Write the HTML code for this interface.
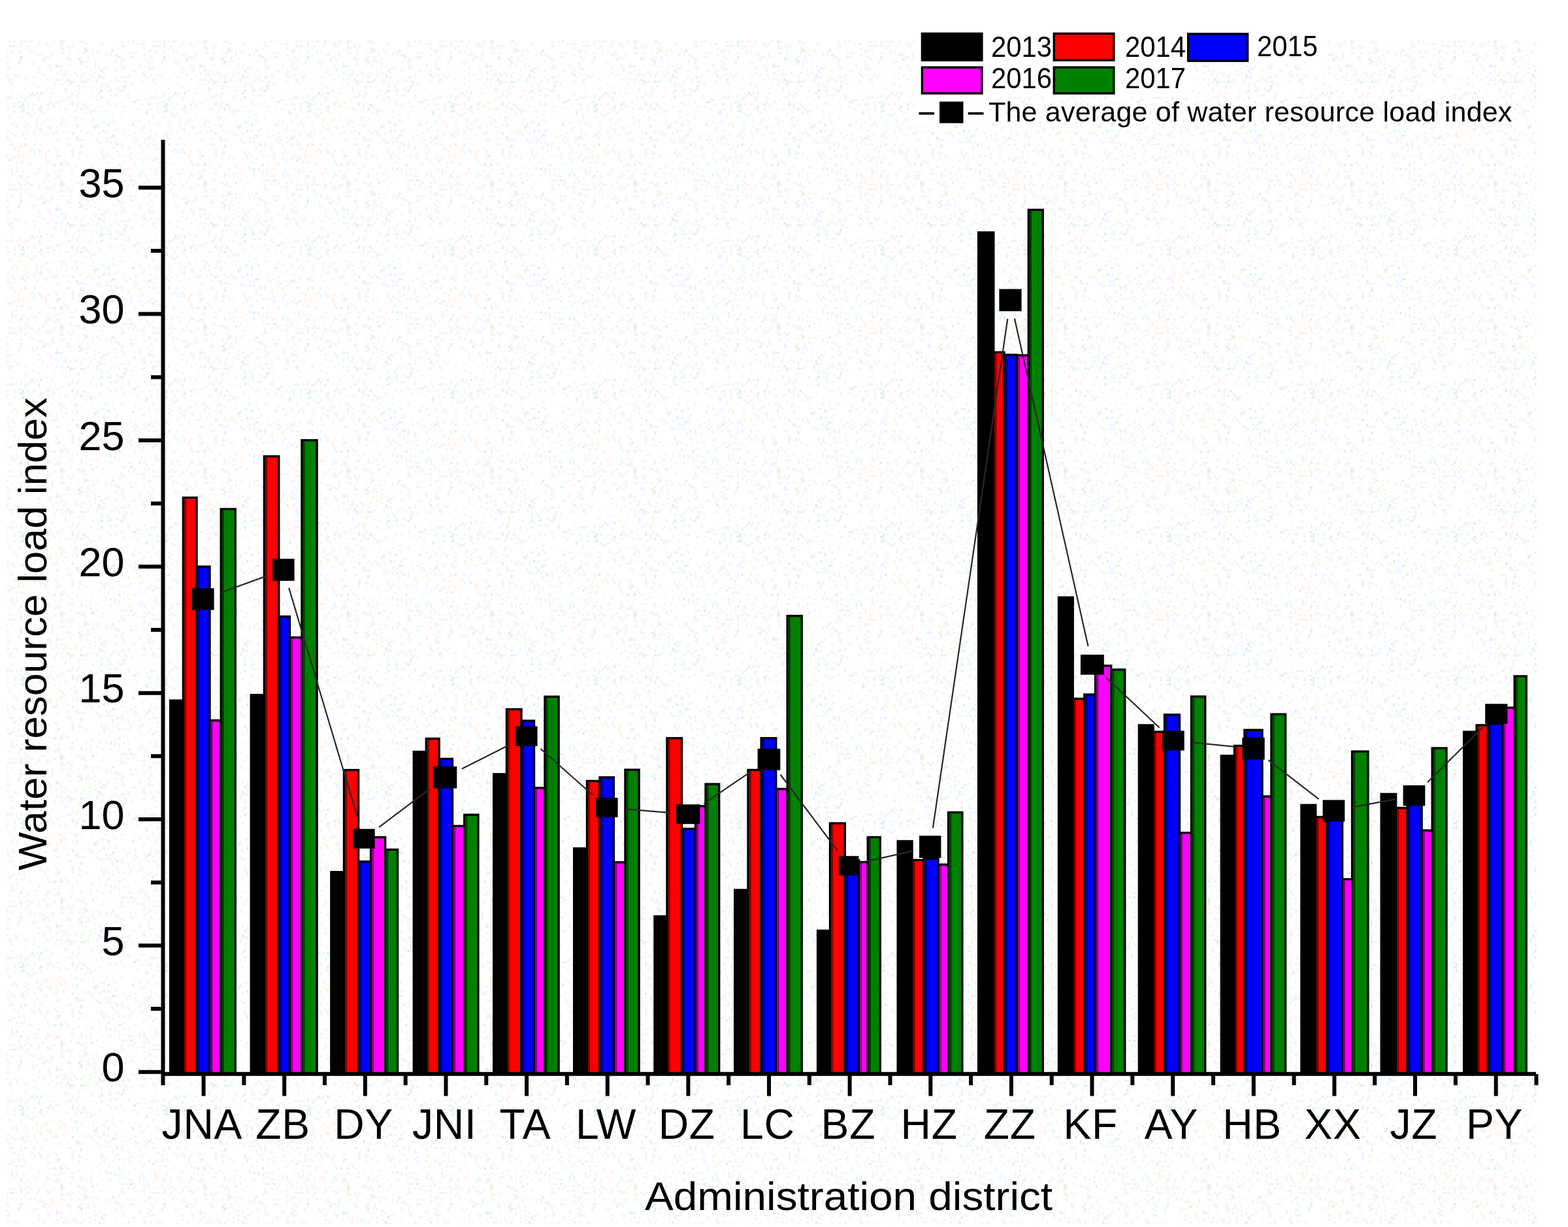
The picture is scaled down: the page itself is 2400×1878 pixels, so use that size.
<!DOCTYPE html>
<html><head><meta charset="utf-8"><title>Water resource load index</title>
<style>html,body{margin:0;padding:0;background:#fff;}body{width:2400px;height:1878px;position:relative;overflow:hidden;}</style>
</head><body>
<svg width="2400" height="1878" viewBox="0 0 2400 1878" style="position:absolute;left:0;top:0">
<rect x="0" y="0" width="2400" height="1878" fill="#ffffff"/>
<defs><pattern id="spk" patternUnits="userSpaceOnUse" x="10" y="62" width="219.429" height="219.429"><path fill="#fcebfc" d="M3.4 0.0h3.43v3.43h-3.43zM185.1 0.0h3.43v3.43h-3.43zM120.0 3.4h3.43v3.43h-3.43zM10.3 6.9h3.43v3.43h-3.43zM30.9 6.9h3.43v3.43h-3.43zM92.6 6.9h3.43v3.43h-3.43zM85.7 10.3h3.43v3.43h-3.43zM96.0 10.3h3.43v3.43h-3.43zM68.6 17.1h3.43v3.43h-3.43zM209.1 20.6h3.43v3.43h-3.43zM171.4 24.0h3.43v3.43h-3.43zM61.7 37.7h3.43v3.43h-3.43zM102.9 48.0h3.43v3.43h-3.43zM147.4 54.9h3.43v3.43h-3.43zM3.4 58.3h3.43v3.43h-3.43zM0.0 85.7h3.43v3.43h-3.43zM198.9 89.1h3.43v3.43h-3.43zM123.4 102.9h3.43v3.43h-3.43zM126.9 106.3h3.43v3.43h-3.43zM126.9 140.6h3.43v3.43h-3.43zM24.0 144.0h3.43v3.43h-3.43zM137.1 150.9h3.43v3.43h-3.43zM157.7 154.3h3.43v3.43h-3.43zM41.1 157.7h3.43v3.43h-3.43zM10.3 164.6h3.43v3.43h-3.43zM99.4 168.0h3.43v3.43h-3.43zM99.4 171.4h3.43v3.43h-3.43zM188.6 171.4h3.43v3.43h-3.43zM6.9 178.3h3.43v3.43h-3.43zM216.0 178.3h3.43v3.43h-3.43zM48.0 195.4h3.43v3.43h-3.43zM58.3 209.1h3.43v3.43h-3.43z"/><path fill="#fff4e9" d="M10.3 0.0h3.43v3.43h-3.43zM37.7 0.0h3.43v3.43h-3.43zM48.0 0.0h3.43v3.43h-3.43zM85.7 0.0h3.43v3.43h-3.43zM174.9 0.0h3.43v3.43h-3.43zM58.3 3.4h3.43v3.43h-3.43zM68.6 3.4h3.43v3.43h-3.43zM82.3 3.4h3.43v3.43h-3.43zM198.9 3.4h3.43v3.43h-3.43zM13.7 6.9h3.43v3.43h-3.43zM44.6 6.9h3.43v3.43h-3.43zM61.7 6.9h3.43v3.43h-3.43zM65.1 6.9h3.43v3.43h-3.43zM27.4 10.3h3.43v3.43h-3.43zM82.3 10.3h3.43v3.43h-3.43zM116.6 10.3h3.43v3.43h-3.43zM171.4 10.3h3.43v3.43h-3.43zM34.3 13.7h3.43v3.43h-3.43zM123.4 13.7h3.43v3.43h-3.43zM130.3 13.7h3.43v3.43h-3.43zM137.1 13.7h3.43v3.43h-3.43zM34.3 17.1h3.43v3.43h-3.43zM51.4 17.1h3.43v3.43h-3.43zM82.3 17.1h3.43v3.43h-3.43zM96.0 17.1h3.43v3.43h-3.43zM109.7 17.1h3.43v3.43h-3.43zM140.6 17.1h3.43v3.43h-3.43zM150.9 17.1h3.43v3.43h-3.43zM216.0 17.1h3.43v3.43h-3.43zM51.4 20.6h3.43v3.43h-3.43zM54.9 20.6h3.43v3.43h-3.43zM68.6 20.6h3.43v3.43h-3.43zM157.7 20.6h3.43v3.43h-3.43zM61.7 24.0h3.43v3.43h-3.43zM68.6 24.0h3.43v3.43h-3.43zM123.4 24.0h3.43v3.43h-3.43zM168.0 24.0h3.43v3.43h-3.43zM3.4 27.4h3.43v3.43h-3.43zM65.1 27.4h3.43v3.43h-3.43zM133.7 27.4h3.43v3.43h-3.43zM178.3 27.4h3.43v3.43h-3.43zM44.6 30.9h3.43v3.43h-3.43zM120.0 30.9h3.43v3.43h-3.43zM126.9 30.9h3.43v3.43h-3.43zM174.9 30.9h3.43v3.43h-3.43zM41.1 34.3h3.43v3.43h-3.43zM96.0 34.3h3.43v3.43h-3.43zM109.7 34.3h3.43v3.43h-3.43zM113.1 34.3h3.43v3.43h-3.43zM154.3 37.7h3.43v3.43h-3.43zM133.7 41.1h3.43v3.43h-3.43zM174.9 41.1h3.43v3.43h-3.43zM178.3 41.1h3.43v3.43h-3.43zM216.0 41.1h3.43v3.43h-3.43zM65.1 44.6h3.43v3.43h-3.43zM89.1 44.6h3.43v3.43h-3.43zM126.9 44.6h3.43v3.43h-3.43zM195.4 44.6h3.43v3.43h-3.43zM209.1 44.6h3.43v3.43h-3.43zM89.1 48.0h3.43v3.43h-3.43zM116.6 48.0h3.43v3.43h-3.43zM133.7 48.0h3.43v3.43h-3.43zM205.7 48.0h3.43v3.43h-3.43zM17.1 51.4h3.43v3.43h-3.43zM85.7 51.4h3.43v3.43h-3.43zM89.1 51.4h3.43v3.43h-3.43zM96.0 51.4h3.43v3.43h-3.43zM113.1 51.4h3.43v3.43h-3.43zM41.1 54.9h3.43v3.43h-3.43zM68.6 54.9h3.43v3.43h-3.43zM164.6 54.9h3.43v3.43h-3.43zM185.1 54.9h3.43v3.43h-3.43zM212.6 54.9h3.43v3.43h-3.43zM6.9 58.3h3.43v3.43h-3.43zM161.1 58.3h3.43v3.43h-3.43zM89.1 61.7h3.43v3.43h-3.43zM102.9 61.7h3.43v3.43h-3.43zM171.4 61.7h3.43v3.43h-3.43zM178.3 61.7h3.43v3.43h-3.43zM205.7 61.7h3.43v3.43h-3.43zM209.1 61.7h3.43v3.43h-3.43zM72.0 65.1h3.43v3.43h-3.43zM144.0 65.1h3.43v3.43h-3.43zM150.9 65.1h3.43v3.43h-3.43zM181.7 65.1h3.43v3.43h-3.43zM48.0 68.6h3.43v3.43h-3.43zM109.7 68.6h3.43v3.43h-3.43zM116.6 68.6h3.43v3.43h-3.43zM144.0 68.6h3.43v3.43h-3.43zM27.4 72.0h3.43v3.43h-3.43zM109.7 72.0h3.43v3.43h-3.43zM157.7 72.0h3.43v3.43h-3.43zM6.9 75.4h3.43v3.43h-3.43zM58.3 75.4h3.43v3.43h-3.43zM171.4 75.4h3.43v3.43h-3.43zM99.4 78.9h3.43v3.43h-3.43zM99.4 82.3h3.43v3.43h-3.43zM168.0 82.3h3.43v3.43h-3.43zM209.1 82.3h3.43v3.43h-3.43zM13.7 85.7h3.43v3.43h-3.43zM20.6 85.7h3.43v3.43h-3.43zM27.4 85.7h3.43v3.43h-3.43zM65.1 85.7h3.43v3.43h-3.43zM106.3 85.7h3.43v3.43h-3.43zM85.7 89.1h3.43v3.43h-3.43zM137.1 89.1h3.43v3.43h-3.43zM212.6 89.1h3.43v3.43h-3.43zM75.4 92.6h3.43v3.43h-3.43zM109.7 92.6h3.43v3.43h-3.43zM0.0 96.0h3.43v3.43h-3.43zM10.3 96.0h3.43v3.43h-3.43zM68.6 96.0h3.43v3.43h-3.43zM157.7 96.0h3.43v3.43h-3.43zM205.7 96.0h3.43v3.43h-3.43zM68.6 99.4h3.43v3.43h-3.43zM72.0 99.4h3.43v3.43h-3.43zM192.0 99.4h3.43v3.43h-3.43zM37.7 102.9h3.43v3.43h-3.43zM51.4 102.9h3.43v3.43h-3.43zM78.9 102.9h3.43v3.43h-3.43zM92.6 102.9h3.43v3.43h-3.43zM106.3 102.9h3.43v3.43h-3.43zM102.9 106.3h3.43v3.43h-3.43zM130.3 106.3h3.43v3.43h-3.43zM133.7 106.3h3.43v3.43h-3.43zM150.9 106.3h3.43v3.43h-3.43zM54.9 109.7h3.43v3.43h-3.43zM120.0 109.7h3.43v3.43h-3.43zM3.4 113.1h3.43v3.43h-3.43zM96.0 113.1h3.43v3.43h-3.43zM161.1 113.1h3.43v3.43h-3.43zM68.6 116.6h3.43v3.43h-3.43zM78.9 116.6h3.43v3.43h-3.43zM82.3 116.6h3.43v3.43h-3.43zM130.3 116.6h3.43v3.43h-3.43zM44.6 120.0h3.43v3.43h-3.43zM61.7 120.0h3.43v3.43h-3.43zM102.9 120.0h3.43v3.43h-3.43zM113.1 120.0h3.43v3.43h-3.43zM161.1 120.0h3.43v3.43h-3.43zM195.4 120.0h3.43v3.43h-3.43zM10.3 123.4h3.43v3.43h-3.43zM27.4 123.4h3.43v3.43h-3.43zM54.9 123.4h3.43v3.43h-3.43zM82.3 123.4h3.43v3.43h-3.43zM130.3 123.4h3.43v3.43h-3.43zM13.7 126.9h3.43v3.43h-3.43zM30.9 126.9h3.43v3.43h-3.43zM51.4 126.9h3.43v3.43h-3.43zM99.4 126.9h3.43v3.43h-3.43zM13.7 130.3h3.43v3.43h-3.43zM44.6 130.3h3.43v3.43h-3.43zM61.7 130.3h3.43v3.43h-3.43zM75.4 130.3h3.43v3.43h-3.43zM89.1 130.3h3.43v3.43h-3.43zM30.9 133.7h3.43v3.43h-3.43zM48.0 133.7h3.43v3.43h-3.43zM133.7 133.7h3.43v3.43h-3.43zM0.0 137.1h3.43v3.43h-3.43zM27.4 137.1h3.43v3.43h-3.43zM41.1 137.1h3.43v3.43h-3.43zM51.4 137.1h3.43v3.43h-3.43zM75.4 137.1h3.43v3.43h-3.43zM85.7 137.1h3.43v3.43h-3.43zM92.6 137.1h3.43v3.43h-3.43zM113.1 137.1h3.43v3.43h-3.43zM123.4 137.1h3.43v3.43h-3.43zM6.9 140.6h3.43v3.43h-3.43zM30.9 140.6h3.43v3.43h-3.43zM41.1 140.6h3.43v3.43h-3.43zM68.6 140.6h3.43v3.43h-3.43zM75.4 140.6h3.43v3.43h-3.43zM178.3 140.6h3.43v3.43h-3.43zM0.0 147.4h3.43v3.43h-3.43zM92.6 147.4h3.43v3.43h-3.43zM209.1 147.4h3.43v3.43h-3.43zM3.4 150.9h3.43v3.43h-3.43zM75.4 150.9h3.43v3.43h-3.43zM106.3 150.9h3.43v3.43h-3.43zM113.1 150.9h3.43v3.43h-3.43zM192.0 150.9h3.43v3.43h-3.43zM144.0 154.3h3.43v3.43h-3.43zM164.6 154.3h3.43v3.43h-3.43zM174.9 154.3h3.43v3.43h-3.43zM3.4 157.7h3.43v3.43h-3.43zM20.6 157.7h3.43v3.43h-3.43zM51.4 157.7h3.43v3.43h-3.43zM202.3 157.7h3.43v3.43h-3.43zM174.9 161.1h3.43v3.43h-3.43zM185.1 161.1h3.43v3.43h-3.43zM202.3 161.1h3.43v3.43h-3.43zM72.0 164.6h3.43v3.43h-3.43zM161.1 164.6h3.43v3.43h-3.43zM34.3 168.0h3.43v3.43h-3.43zM41.1 168.0h3.43v3.43h-3.43zM48.0 168.0h3.43v3.43h-3.43zM51.4 168.0h3.43v3.43h-3.43zM58.3 171.4h3.43v3.43h-3.43zM109.7 171.4h3.43v3.43h-3.43zM113.1 171.4h3.43v3.43h-3.43zM0.0 174.9h3.43v3.43h-3.43zM17.1 174.9h3.43v3.43h-3.43zM24.0 174.9h3.43v3.43h-3.43zM58.3 174.9h3.43v3.43h-3.43zM75.4 174.9h3.43v3.43h-3.43zM154.3 174.9h3.43v3.43h-3.43zM178.3 174.9h3.43v3.43h-3.43zM185.1 174.9h3.43v3.43h-3.43zM10.3 178.3h3.43v3.43h-3.43zM17.1 178.3h3.43v3.43h-3.43zM27.4 178.3h3.43v3.43h-3.43zM58.3 178.3h3.43v3.43h-3.43zM126.9 178.3h3.43v3.43h-3.43zM202.3 178.3h3.43v3.43h-3.43zM61.7 181.7h3.43v3.43h-3.43zM85.7 181.7h3.43v3.43h-3.43zM140.6 181.7h3.43v3.43h-3.43zM209.1 181.7h3.43v3.43h-3.43zM24.0 185.1h3.43v3.43h-3.43zM61.7 185.1h3.43v3.43h-3.43zM82.3 185.1h3.43v3.43h-3.43zM178.3 185.1h3.43v3.43h-3.43zM205.7 185.1h3.43v3.43h-3.43zM13.7 192.0h3.43v3.43h-3.43zM150.9 192.0h3.43v3.43h-3.43zM0.0 195.4h3.43v3.43h-3.43zM82.3 195.4h3.43v3.43h-3.43zM120.0 195.4h3.43v3.43h-3.43zM140.6 195.4h3.43v3.43h-3.43zM185.1 195.4h3.43v3.43h-3.43zM72.0 198.9h3.43v3.43h-3.43zM78.9 198.9h3.43v3.43h-3.43zM6.9 202.3h3.43v3.43h-3.43zM10.3 202.3h3.43v3.43h-3.43zM41.1 202.3h3.43v3.43h-3.43zM44.6 202.3h3.43v3.43h-3.43zM96.0 202.3h3.43v3.43h-3.43zM137.1 202.3h3.43v3.43h-3.43zM171.4 202.3h3.43v3.43h-3.43zM178.3 202.3h3.43v3.43h-3.43zM65.1 205.7h3.43v3.43h-3.43zM120.0 205.7h3.43v3.43h-3.43zM144.0 205.7h3.43v3.43h-3.43zM185.1 205.7h3.43v3.43h-3.43zM3.4 209.1h3.43v3.43h-3.43zM17.1 209.1h3.43v3.43h-3.43zM30.9 209.1h3.43v3.43h-3.43zM44.6 209.1h3.43v3.43h-3.43zM75.4 209.1h3.43v3.43h-3.43zM78.9 209.1h3.43v3.43h-3.43zM171.4 209.1h3.43v3.43h-3.43zM27.4 212.6h3.43v3.43h-3.43zM82.3 212.6h3.43v3.43h-3.43zM192.0 212.6h3.43v3.43h-3.43zM216.0 212.6h3.43v3.43h-3.43zM17.1 216.0h3.43v3.43h-3.43zM85.7 216.0h3.43v3.43h-3.43zM116.6 216.0h3.43v3.43h-3.43zM147.4 216.0h3.43v3.43h-3.43zM216.0 216.0h3.43v3.43h-3.43z"/><path fill="#ebf5ff" d="M20.6 0.0h3.43v3.43h-3.43zM27.4 0.0h3.43v3.43h-3.43zM34.3 0.0h3.43v3.43h-3.43zM72.0 0.0h3.43v3.43h-3.43zM113.1 0.0h3.43v3.43h-3.43zM116.6 0.0h3.43v3.43h-3.43zM192.0 0.0h3.43v3.43h-3.43zM20.6 3.4h3.43v3.43h-3.43zM48.0 3.4h3.43v3.43h-3.43zM61.7 3.4h3.43v3.43h-3.43zM144.0 3.4h3.43v3.43h-3.43zM174.9 3.4h3.43v3.43h-3.43zM205.7 3.4h3.43v3.43h-3.43zM209.1 3.4h3.43v3.43h-3.43zM3.4 6.9h3.43v3.43h-3.43zM6.9 6.9h3.43v3.43h-3.43zM20.6 6.9h3.43v3.43h-3.43zM82.3 6.9h3.43v3.43h-3.43zM99.4 6.9h3.43v3.43h-3.43zM174.9 6.9h3.43v3.43h-3.43zM178.3 6.9h3.43v3.43h-3.43zM120.0 10.3h3.43v3.43h-3.43zM209.1 10.3h3.43v3.43h-3.43zM0.0 13.7h3.43v3.43h-3.43zM216.0 13.7h3.43v3.43h-3.43zM6.9 17.1h3.43v3.43h-3.43zM20.6 17.1h3.43v3.43h-3.43zM41.1 17.1h3.43v3.43h-3.43zM85.7 17.1h3.43v3.43h-3.43zM116.6 17.1h3.43v3.43h-3.43zM157.7 17.1h3.43v3.43h-3.43zM188.6 17.1h3.43v3.43h-3.43zM195.4 17.1h3.43v3.43h-3.43zM48.0 20.6h3.43v3.43h-3.43zM130.3 20.6h3.43v3.43h-3.43zM150.9 20.6h3.43v3.43h-3.43zM164.6 20.6h3.43v3.43h-3.43zM168.0 20.6h3.43v3.43h-3.43zM0.0 24.0h3.43v3.43h-3.43zM58.3 24.0h3.43v3.43h-3.43zM92.6 24.0h3.43v3.43h-3.43zM113.1 24.0h3.43v3.43h-3.43zM188.6 24.0h3.43v3.43h-3.43zM192.0 24.0h3.43v3.43h-3.43zM20.6 27.4h3.43v3.43h-3.43zM92.6 27.4h3.43v3.43h-3.43zM96.0 27.4h3.43v3.43h-3.43zM123.4 27.4h3.43v3.43h-3.43zM174.9 27.4h3.43v3.43h-3.43zM17.1 30.9h3.43v3.43h-3.43zM37.7 30.9h3.43v3.43h-3.43zM164.6 30.9h3.43v3.43h-3.43zM216.0 30.9h3.43v3.43h-3.43zM0.0 34.3h3.43v3.43h-3.43zM17.1 34.3h3.43v3.43h-3.43zM75.4 34.3h3.43v3.43h-3.43zM133.7 34.3h3.43v3.43h-3.43zM174.9 34.3h3.43v3.43h-3.43zM202.3 34.3h3.43v3.43h-3.43zM78.9 37.7h3.43v3.43h-3.43zM82.3 37.7h3.43v3.43h-3.43zM120.0 37.7h3.43v3.43h-3.43zM140.6 37.7h3.43v3.43h-3.43zM178.3 37.7h3.43v3.43h-3.43zM202.3 37.7h3.43v3.43h-3.43zM216.0 37.7h3.43v3.43h-3.43zM0.0 41.1h3.43v3.43h-3.43zM3.4 41.1h3.43v3.43h-3.43zM48.0 41.1h3.43v3.43h-3.43zM65.1 41.1h3.43v3.43h-3.43zM147.4 41.1h3.43v3.43h-3.43zM150.9 41.1h3.43v3.43h-3.43zM82.3 44.6h3.43v3.43h-3.43zM164.6 44.6h3.43v3.43h-3.43zM192.0 44.6h3.43v3.43h-3.43zM48.0 48.0h3.43v3.43h-3.43zM75.4 48.0h3.43v3.43h-3.43zM147.4 48.0h3.43v3.43h-3.43zM0.0 51.4h3.43v3.43h-3.43zM10.3 51.4h3.43v3.43h-3.43zM54.9 51.4h3.43v3.43h-3.43zM106.3 51.4h3.43v3.43h-3.43zM126.9 51.4h3.43v3.43h-3.43zM185.1 51.4h3.43v3.43h-3.43zM13.7 54.9h3.43v3.43h-3.43zM113.1 54.9h3.43v3.43h-3.43zM140.6 54.9h3.43v3.43h-3.43zM144.0 54.9h3.43v3.43h-3.43zM174.9 54.9h3.43v3.43h-3.43zM178.3 54.9h3.43v3.43h-3.43zM27.4 58.3h3.43v3.43h-3.43zM61.7 58.3h3.43v3.43h-3.43zM75.4 58.3h3.43v3.43h-3.43zM82.3 58.3h3.43v3.43h-3.43zM123.4 58.3h3.43v3.43h-3.43zM137.1 58.3h3.43v3.43h-3.43zM168.0 58.3h3.43v3.43h-3.43zM3.4 61.7h3.43v3.43h-3.43zM99.4 61.7h3.43v3.43h-3.43zM116.6 61.7h3.43v3.43h-3.43zM120.0 61.7h3.43v3.43h-3.43zM137.1 61.7h3.43v3.43h-3.43zM157.7 61.7h3.43v3.43h-3.43zM181.7 61.7h3.43v3.43h-3.43zM6.9 65.1h3.43v3.43h-3.43zM41.1 65.1h3.43v3.43h-3.43zM82.3 65.1h3.43v3.43h-3.43zM96.0 65.1h3.43v3.43h-3.43zM188.6 65.1h3.43v3.43h-3.43zM154.3 68.6h3.43v3.43h-3.43zM89.1 72.0h3.43v3.43h-3.43zM168.0 72.0h3.43v3.43h-3.43zM178.3 72.0h3.43v3.43h-3.43zM89.1 75.4h3.43v3.43h-3.43zM130.3 75.4h3.43v3.43h-3.43zM154.3 75.4h3.43v3.43h-3.43zM157.7 75.4h3.43v3.43h-3.43zM44.6 78.9h3.43v3.43h-3.43zM68.6 78.9h3.43v3.43h-3.43zM109.7 78.9h3.43v3.43h-3.43zM140.6 78.9h3.43v3.43h-3.43zM20.6 82.3h3.43v3.43h-3.43zM34.3 82.3h3.43v3.43h-3.43zM41.1 82.3h3.43v3.43h-3.43zM106.3 82.3h3.43v3.43h-3.43zM157.7 82.3h3.43v3.43h-3.43zM164.6 82.3h3.43v3.43h-3.43zM185.1 82.3h3.43v3.43h-3.43zM3.4 85.7h3.43v3.43h-3.43zM6.9 85.7h3.43v3.43h-3.43zM30.9 85.7h3.43v3.43h-3.43zM48.0 85.7h3.43v3.43h-3.43zM92.6 85.7h3.43v3.43h-3.43zM96.0 85.7h3.43v3.43h-3.43zM126.9 85.7h3.43v3.43h-3.43zM185.1 85.7h3.43v3.43h-3.43zM27.4 89.1h3.43v3.43h-3.43zM48.0 89.1h3.43v3.43h-3.43zM202.3 89.1h3.43v3.43h-3.43zM17.1 92.6h3.43v3.43h-3.43zM20.6 92.6h3.43v3.43h-3.43zM65.1 92.6h3.43v3.43h-3.43zM78.9 92.6h3.43v3.43h-3.43zM99.4 92.6h3.43v3.43h-3.43zM154.3 92.6h3.43v3.43h-3.43zM174.9 92.6h3.43v3.43h-3.43zM192.0 92.6h3.43v3.43h-3.43zM30.9 96.0h3.43v3.43h-3.43zM41.1 96.0h3.43v3.43h-3.43zM106.3 96.0h3.43v3.43h-3.43zM164.6 96.0h3.43v3.43h-3.43zM216.0 96.0h3.43v3.43h-3.43zM10.3 99.4h3.43v3.43h-3.43zM24.0 99.4h3.43v3.43h-3.43zM106.3 99.4h3.43v3.43h-3.43zM120.0 99.4h3.43v3.43h-3.43zM140.6 99.4h3.43v3.43h-3.43zM178.3 99.4h3.43v3.43h-3.43zM0.0 102.9h3.43v3.43h-3.43zM24.0 102.9h3.43v3.43h-3.43zM48.0 102.9h3.43v3.43h-3.43zM61.7 102.9h3.43v3.43h-3.43zM89.1 102.9h3.43v3.43h-3.43zM198.9 102.9h3.43v3.43h-3.43zM10.3 106.3h3.43v3.43h-3.43zM20.6 106.3h3.43v3.43h-3.43zM51.4 106.3h3.43v3.43h-3.43zM212.6 106.3h3.43v3.43h-3.43zM30.9 109.7h3.43v3.43h-3.43zM41.1 109.7h3.43v3.43h-3.43zM126.9 109.7h3.43v3.43h-3.43zM34.3 113.1h3.43v3.43h-3.43zM37.7 113.1h3.43v3.43h-3.43zM3.4 116.6h3.43v3.43h-3.43zM20.6 116.6h3.43v3.43h-3.43zM102.9 116.6h3.43v3.43h-3.43zM106.3 116.6h3.43v3.43h-3.43zM150.9 116.6h3.43v3.43h-3.43zM174.9 116.6h3.43v3.43h-3.43zM58.3 120.0h3.43v3.43h-3.43zM85.7 120.0h3.43v3.43h-3.43zM44.6 123.4h3.43v3.43h-3.43zM89.1 123.4h3.43v3.43h-3.43zM144.0 123.4h3.43v3.43h-3.43zM147.4 123.4h3.43v3.43h-3.43zM164.6 123.4h3.43v3.43h-3.43zM202.3 123.4h3.43v3.43h-3.43zM216.0 123.4h3.43v3.43h-3.43zM6.9 126.9h3.43v3.43h-3.43zM82.3 126.9h3.43v3.43h-3.43zM106.3 126.9h3.43v3.43h-3.43zM137.1 126.9h3.43v3.43h-3.43zM27.4 130.3h3.43v3.43h-3.43zM65.1 130.3h3.43v3.43h-3.43zM106.3 130.3h3.43v3.43h-3.43zM137.1 130.3h3.43v3.43h-3.43zM209.1 130.3h3.43v3.43h-3.43zM51.4 133.7h3.43v3.43h-3.43zM65.1 133.7h3.43v3.43h-3.43zM168.0 133.7h3.43v3.43h-3.43zM205.7 133.7h3.43v3.43h-3.43zM154.3 137.1h3.43v3.43h-3.43zM164.6 137.1h3.43v3.43h-3.43zM24.0 140.6h3.43v3.43h-3.43zM72.0 140.6h3.43v3.43h-3.43zM120.0 140.6h3.43v3.43h-3.43zM140.6 140.6h3.43v3.43h-3.43zM195.4 140.6h3.43v3.43h-3.43zM0.0 144.0h3.43v3.43h-3.43zM10.3 144.0h3.43v3.43h-3.43zM20.6 144.0h3.43v3.43h-3.43zM58.3 144.0h3.43v3.43h-3.43zM130.3 144.0h3.43v3.43h-3.43zM164.6 144.0h3.43v3.43h-3.43zM188.6 144.0h3.43v3.43h-3.43zM27.4 147.4h3.43v3.43h-3.43zM44.6 147.4h3.43v3.43h-3.43zM150.9 147.4h3.43v3.43h-3.43zM157.7 147.4h3.43v3.43h-3.43zM181.7 147.4h3.43v3.43h-3.43zM195.4 147.4h3.43v3.43h-3.43zM78.9 150.9h3.43v3.43h-3.43zM109.7 150.9h3.43v3.43h-3.43zM116.6 150.9h3.43v3.43h-3.43zM154.3 150.9h3.43v3.43h-3.43zM198.9 150.9h3.43v3.43h-3.43zM212.6 150.9h3.43v3.43h-3.43zM140.6 154.3h3.43v3.43h-3.43zM150.9 154.3h3.43v3.43h-3.43zM195.4 154.3h3.43v3.43h-3.43zM209.1 154.3h3.43v3.43h-3.43zM6.9 157.7h3.43v3.43h-3.43zM92.6 157.7h3.43v3.43h-3.43zM96.0 157.7h3.43v3.43h-3.43zM113.1 157.7h3.43v3.43h-3.43zM174.9 157.7h3.43v3.43h-3.43zM216.0 157.7h3.43v3.43h-3.43zM20.6 161.1h3.43v3.43h-3.43zM161.1 161.1h3.43v3.43h-3.43zM37.7 164.6h3.43v3.43h-3.43zM48.0 164.6h3.43v3.43h-3.43zM99.4 164.6h3.43v3.43h-3.43zM185.1 164.6h3.43v3.43h-3.43zM17.1 168.0h3.43v3.43h-3.43zM61.7 168.0h3.43v3.43h-3.43zM75.4 168.0h3.43v3.43h-3.43zM109.7 168.0h3.43v3.43h-3.43zM144.0 168.0h3.43v3.43h-3.43zM168.0 168.0h3.43v3.43h-3.43zM205.7 168.0h3.43v3.43h-3.43zM41.1 171.4h3.43v3.43h-3.43zM51.4 171.4h3.43v3.43h-3.43zM144.0 171.4h3.43v3.43h-3.43zM150.9 171.4h3.43v3.43h-3.43zM202.3 171.4h3.43v3.43h-3.43zM99.4 174.9h3.43v3.43h-3.43zM120.0 174.9h3.43v3.43h-3.43zM147.4 174.9h3.43v3.43h-3.43zM171.4 174.9h3.43v3.43h-3.43zM75.4 178.3h3.43v3.43h-3.43zM109.7 178.3h3.43v3.43h-3.43zM147.4 178.3h3.43v3.43h-3.43zM161.1 178.3h3.43v3.43h-3.43zM188.6 178.3h3.43v3.43h-3.43zM13.7 185.1h3.43v3.43h-3.43zM20.6 185.1h3.43v3.43h-3.43zM89.1 185.1h3.43v3.43h-3.43zM154.3 185.1h3.43v3.43h-3.43zM34.3 188.6h3.43v3.43h-3.43zM65.1 188.6h3.43v3.43h-3.43zM92.6 188.6h3.43v3.43h-3.43zM195.4 188.6h3.43v3.43h-3.43zM106.3 192.0h3.43v3.43h-3.43zM130.3 192.0h3.43v3.43h-3.43zM6.9 195.4h3.43v3.43h-3.43zM99.4 195.4h3.43v3.43h-3.43zM150.9 195.4h3.43v3.43h-3.43zM164.6 195.4h3.43v3.43h-3.43zM178.3 195.4h3.43v3.43h-3.43zM6.9 198.9h3.43v3.43h-3.43zM13.7 198.9h3.43v3.43h-3.43zM24.0 198.9h3.43v3.43h-3.43zM164.6 198.9h3.43v3.43h-3.43zM171.4 198.9h3.43v3.43h-3.43zM205.7 198.9h3.43v3.43h-3.43zM61.7 202.3h3.43v3.43h-3.43zM99.4 202.3h3.43v3.43h-3.43zM113.1 202.3h3.43v3.43h-3.43zM126.9 202.3h3.43v3.43h-3.43zM202.3 202.3h3.43v3.43h-3.43zM209.1 202.3h3.43v3.43h-3.43zM30.9 205.7h3.43v3.43h-3.43zM61.7 205.7h3.43v3.43h-3.43zM75.4 205.7h3.43v3.43h-3.43zM78.9 205.7h3.43v3.43h-3.43zM113.1 205.7h3.43v3.43h-3.43zM157.7 205.7h3.43v3.43h-3.43zM188.6 205.7h3.43v3.43h-3.43zM202.3 205.7h3.43v3.43h-3.43zM209.1 205.7h3.43v3.43h-3.43zM72.0 209.1h3.43v3.43h-3.43zM126.9 209.1h3.43v3.43h-3.43zM212.6 209.1h3.43v3.43h-3.43zM96.0 212.6h3.43v3.43h-3.43zM137.1 212.6h3.43v3.43h-3.43zM174.9 212.6h3.43v3.43h-3.43zM178.3 212.6h3.43v3.43h-3.43zM181.7 212.6h3.43v3.43h-3.43zM30.9 216.0h3.43v3.43h-3.43zM54.9 216.0h3.43v3.43h-3.43zM106.3 216.0h3.43v3.43h-3.43zM109.7 216.0h3.43v3.43h-3.43zM195.4 216.0h3.43v3.43h-3.43zM209.1 216.0h3.43v3.43h-3.43z"/><path fill="#e0eee4" d="M82.3 0.0h3.43v3.43h-3.43zM120.0 13.7h3.43v3.43h-3.43zM161.1 13.7h3.43v3.43h-3.43zM20.6 24.0h3.43v3.43h-3.43zM54.9 27.4h3.43v3.43h-3.43zM109.7 27.4h3.43v3.43h-3.43zM113.1 30.9h3.43v3.43h-3.43zM75.4 37.7h3.43v3.43h-3.43zM144.0 44.6h3.43v3.43h-3.43zM140.6 51.4h3.43v3.43h-3.43zM209.1 51.4h3.43v3.43h-3.43zM92.6 58.3h3.43v3.43h-3.43zM96.0 61.7h3.43v3.43h-3.43zM113.1 61.7h3.43v3.43h-3.43zM178.3 68.6h3.43v3.43h-3.43zM144.0 75.4h3.43v3.43h-3.43zM174.9 75.4h3.43v3.43h-3.43zM37.7 78.9h3.43v3.43h-3.43zM51.4 78.9h3.43v3.43h-3.43zM144.0 85.7h3.43v3.43h-3.43zM195.4 92.6h3.43v3.43h-3.43zM24.0 96.0h3.43v3.43h-3.43zM61.7 96.0h3.43v3.43h-3.43zM99.4 96.0h3.43v3.43h-3.43zM116.6 96.0h3.43v3.43h-3.43zM20.6 99.4h3.43v3.43h-3.43zM51.4 99.4h3.43v3.43h-3.43zM113.1 102.9h3.43v3.43h-3.43zM24.0 106.3h3.43v3.43h-3.43zM212.6 109.7h3.43v3.43h-3.43zM154.3 126.9h3.43v3.43h-3.43zM192.0 126.9h3.43v3.43h-3.43zM133.7 130.3h3.43v3.43h-3.43zM147.4 137.1h3.43v3.43h-3.43zM99.4 140.6h3.43v3.43h-3.43zM161.1 144.0h3.43v3.43h-3.43zM106.3 147.4h3.43v3.43h-3.43zM216.0 147.4h3.43v3.43h-3.43zM27.4 157.7h3.43v3.43h-3.43zM168.0 157.7h3.43v3.43h-3.43zM113.1 161.1h3.43v3.43h-3.43zM78.9 174.9h3.43v3.43h-3.43zM3.4 181.7h3.43v3.43h-3.43zM72.0 188.6h3.43v3.43h-3.43zM82.3 188.6h3.43v3.43h-3.43zM171.4 188.6h3.43v3.43h-3.43zM157.7 195.4h3.43v3.43h-3.43zM20.6 205.7h3.43v3.43h-3.43zM188.6 212.6h3.43v3.43h-3.43zM82.3 216.0h3.43v3.43h-3.43zM130.3 216.0h3.43v3.43h-3.43z"/></pattern></defs>
<rect x="10" y="62" width="2342" height="1812" fill="url(#spk)"/>
<rect x="1402" y="62" width="630" height="36" fill="#fff"/>
<rect x="1402" y="98" width="420" height="50" fill="#fff"/>
<rect x="1402" y="148" width="108" height="44" fill="#fff"/>
<g>
<rect x="260.70" y="1072.20" width="19.70" height="570.80" fill="#000000" stroke="#000" stroke-width="3.4"/>
<rect x="280.40" y="761.70" width="20.60" height="881.30" fill="#ff0000" stroke="#000" stroke-width="3.4"/>
<rect x="282.10" y="763.40" width="3" height="879.30" fill="#8a0000"/>
<rect x="301.00" y="867.20" width="20.00" height="775.80" fill="#0000ff" stroke="#000" stroke-width="3.4"/>
<rect x="302.70" y="868.90" width="3" height="773.80" fill="#00008c"/>
<rect x="321.00" y="1102.70" width="17.30" height="540.30" fill="#ff00ff" stroke="#000" stroke-width="3.4"/>
<rect x="322.70" y="1104.40" width="3" height="538.30" fill="#8c008c"/>
<rect x="338.30" y="779.20" width="22.00" height="863.80" fill="#008000" stroke="#000" stroke-width="3.4"/>
<rect x="340.00" y="780.90" width="3" height="861.80" fill="#004000"/>
<rect x="384.30" y="1063.70" width="20.10" height="579.30" fill="#000000" stroke="#000" stroke-width="3.4"/>
<rect x="404.40" y="698.40" width="22.40" height="944.60" fill="#ff0000" stroke="#000" stroke-width="3.4"/>
<rect x="406.10" y="700.10" width="3" height="942.60" fill="#8a0000"/>
<rect x="426.80" y="943.70" width="16.70" height="699.30" fill="#0000ff" stroke="#000" stroke-width="3.4"/>
<rect x="428.50" y="945.40" width="3" height="697.30" fill="#00008c"/>
<rect x="443.50" y="975.70" width="18.50" height="667.30" fill="#ff00ff" stroke="#000" stroke-width="3.4"/>
<rect x="445.20" y="977.40" width="3" height="665.30" fill="#8c008c"/>
<rect x="462.00" y="673.80" width="23.10" height="969.20" fill="#008000" stroke="#000" stroke-width="3.4"/>
<rect x="463.70" y="675.50" width="3" height="967.20" fill="#004000"/>
<rect x="506.90" y="1334.70" width="19.60" height="308.30" fill="#000000" stroke="#000" stroke-width="3.4"/>
<rect x="526.50" y="1178.60" width="22.10" height="464.40" fill="#ff0000" stroke="#000" stroke-width="3.4"/>
<rect x="528.20" y="1180.30" width="3" height="462.40" fill="#8a0000"/>
<rect x="548.60" y="1318.70" width="19.00" height="324.30" fill="#0000ff" stroke="#000" stroke-width="3.4"/>
<rect x="550.30" y="1320.40" width="3" height="322.30" fill="#00008c"/>
<rect x="567.60" y="1281.40" width="22.10" height="361.60" fill="#ff00ff" stroke="#000" stroke-width="3.4"/>
<rect x="569.30" y="1283.10" width="3" height="359.60" fill="#8c008c"/>
<rect x="589.70" y="1300.40" width="18.90" height="342.60" fill="#008000" stroke="#000" stroke-width="3.4"/>
<rect x="591.40" y="1302.10" width="3" height="340.60" fill="#004000"/>
<rect x="633.30" y="1150.70" width="19.00" height="492.30" fill="#000000" stroke="#000" stroke-width="3.4"/>
<rect x="652.30" y="1130.60" width="19.90" height="512.40" fill="#ff0000" stroke="#000" stroke-width="3.4"/>
<rect x="654.00" y="1132.30" width="3" height="510.40" fill="#8a0000"/>
<rect x="672.20" y="1161.50" width="20.30" height="481.50" fill="#0000ff" stroke="#000" stroke-width="3.4"/>
<rect x="673.90" y="1163.20" width="3" height="479.50" fill="#00008c"/>
<rect x="692.50" y="1264.30" width="18.30" height="378.70" fill="#ff00ff" stroke="#000" stroke-width="3.4"/>
<rect x="694.20" y="1266.00" width="3" height="376.70" fill="#8c008c"/>
<rect x="710.80" y="1247.10" width="21.10" height="395.90" fill="#008000" stroke="#000" stroke-width="3.4"/>
<rect x="712.50" y="1248.80" width="3" height="393.90" fill="#004000"/>
<rect x="755.70" y="1184.90" width="19.80" height="458.10" fill="#000000" stroke="#000" stroke-width="3.4"/>
<rect x="775.50" y="1085.60" width="22.50" height="557.40" fill="#ff0000" stroke="#000" stroke-width="3.4"/>
<rect x="777.20" y="1087.30" width="3" height="555.40" fill="#8a0000"/>
<rect x="798.00" y="1103.20" width="19.50" height="539.80" fill="#0000ff" stroke="#000" stroke-width="3.4"/>
<rect x="799.70" y="1104.90" width="3" height="537.80" fill="#00008c"/>
<rect x="817.50" y="1206.00" width="16.50" height="437.00" fill="#ff00ff" stroke="#000" stroke-width="3.4"/>
<rect x="819.20" y="1207.70" width="3" height="435.00" fill="#8c008c"/>
<rect x="834.00" y="1066.30" width="21.10" height="576.70" fill="#008000" stroke="#000" stroke-width="3.4"/>
<rect x="835.70" y="1068.00" width="3" height="574.70" fill="#004000"/>
<rect x="878.70" y="1298.60" width="19.80" height="344.40" fill="#000000" stroke="#000" stroke-width="3.4"/>
<rect x="898.50" y="1195.40" width="19.50" height="447.60" fill="#ff0000" stroke="#000" stroke-width="3.4"/>
<rect x="900.20" y="1197.10" width="3" height="445.60" fill="#8a0000"/>
<rect x="918.00" y="1189.80" width="21.40" height="453.20" fill="#0000ff" stroke="#000" stroke-width="3.4"/>
<rect x="919.70" y="1191.50" width="3" height="451.20" fill="#00008c"/>
<rect x="939.40" y="1319.80" width="17.60" height="323.20" fill="#ff00ff" stroke="#000" stroke-width="3.4"/>
<rect x="941.10" y="1321.50" width="3" height="321.20" fill="#8c008c"/>
<rect x="957.00" y="1178.20" width="21.10" height="464.80" fill="#008000" stroke="#000" stroke-width="3.4"/>
<rect x="958.70" y="1179.90" width="3" height="462.80" fill="#004000"/>
<rect x="1002.00" y="1402.50" width="19.00" height="240.50" fill="#000000" stroke="#000" stroke-width="3.4"/>
<rect x="1021.00" y="1129.80" width="22.50" height="513.20" fill="#ff0000" stroke="#000" stroke-width="3.4"/>
<rect x="1022.70" y="1131.50" width="3" height="511.20" fill="#8a0000"/>
<rect x="1043.50" y="1268.50" width="21.00" height="374.50" fill="#0000ff" stroke="#000" stroke-width="3.4"/>
<rect x="1045.20" y="1270.20" width="3" height="372.50" fill="#00008c"/>
<rect x="1064.50" y="1233.80" width="15.50" height="409.20" fill="#ff00ff" stroke="#000" stroke-width="3.4"/>
<rect x="1066.20" y="1235.50" width="3" height="407.20" fill="#8c008c"/>
<rect x="1080.00" y="1200.10" width="20.70" height="442.90" fill="#008000" stroke="#000" stroke-width="3.4"/>
<rect x="1081.70" y="1201.80" width="3" height="440.90" fill="#004000"/>
<rect x="1124.70" y="1362.20" width="20.30" height="280.80" fill="#000000" stroke="#000" stroke-width="3.4"/>
<rect x="1145.00" y="1178.50" width="20.20" height="464.50" fill="#ff0000" stroke="#000" stroke-width="3.4"/>
<rect x="1146.70" y="1180.20" width="3" height="462.50" fill="#8a0000"/>
<rect x="1165.20" y="1129.80" width="22.50" height="513.20" fill="#0000ff" stroke="#000" stroke-width="3.4"/>
<rect x="1166.90" y="1131.50" width="3" height="511.20" fill="#00008c"/>
<rect x="1187.70" y="1207.60" width="17.50" height="435.40" fill="#ff00ff" stroke="#000" stroke-width="3.4"/>
<rect x="1189.40" y="1209.30" width="3" height="433.40" fill="#8c008c"/>
<rect x="1205.20" y="942.70" width="22.00" height="700.30" fill="#008000" stroke="#000" stroke-width="3.4"/>
<rect x="1206.90" y="944.40" width="3" height="698.30" fill="#004000"/>
<rect x="1251.60" y="1424.50" width="18.90" height="218.50" fill="#000000" stroke="#000" stroke-width="3.4"/>
<rect x="1270.50" y="1260.10" width="22.80" height="382.90" fill="#ff0000" stroke="#000" stroke-width="3.4"/>
<rect x="1272.20" y="1261.80" width="3" height="380.90" fill="#8a0000"/>
<rect x="1293.30" y="1316.70" width="21.30" height="326.30" fill="#0000ff" stroke="#000" stroke-width="3.4"/>
<rect x="1295.00" y="1318.40" width="3" height="324.30" fill="#00008c"/>
<rect x="1314.60" y="1319.50" width="13.70" height="323.50" fill="#ff00ff" stroke="#000" stroke-width="3.4"/>
<rect x="1316.30" y="1321.20" width="3" height="321.50" fill="#8c008c"/>
<rect x="1328.30" y="1281.40" width="18.90" height="361.60" fill="#008000" stroke="#000" stroke-width="3.4"/>
<rect x="1330.00" y="1283.10" width="3" height="359.60" fill="#004000"/>
<rect x="1374.20" y="1287.50" width="21.80" height="355.50" fill="#000000" stroke="#000" stroke-width="3.4"/>
<rect x="1396.00" y="1316.40" width="18.00" height="326.60" fill="#ff0000" stroke="#000" stroke-width="3.4"/>
<rect x="1397.70" y="1318.10" width="3" height="324.60" fill="#8a0000"/>
<rect x="1414.00" y="1314.20" width="22.00" height="328.80" fill="#0000ff" stroke="#000" stroke-width="3.4"/>
<rect x="1415.70" y="1315.90" width="3" height="326.80" fill="#00008c"/>
<rect x="1436.00" y="1323.30" width="15.60" height="319.70" fill="#ff00ff" stroke="#000" stroke-width="3.4"/>
<rect x="1437.70" y="1325.00" width="3" height="317.70" fill="#8c008c"/>
<rect x="1451.60" y="1243.40" width="21.20" height="399.60" fill="#008000" stroke="#000" stroke-width="3.4"/>
<rect x="1453.30" y="1245.10" width="3" height="397.60" fill="#004000"/>
<rect x="1497.60" y="355.80" width="23.20" height="1287.20" fill="#000000" stroke="#000" stroke-width="3.4"/>
<rect x="1520.80" y="539.20" width="16.20" height="1103.80" fill="#ff0000" stroke="#000" stroke-width="3.4"/>
<rect x="1522.50" y="540.90" width="3" height="1101.80" fill="#8a0000"/>
<rect x="1537.00" y="543.10" width="19.50" height="1099.90" fill="#0000ff" stroke="#000" stroke-width="3.4"/>
<rect x="1538.70" y="544.80" width="3" height="1097.90" fill="#00008c"/>
<rect x="1556.50" y="543.80" width="17.80" height="1099.20" fill="#ff00ff" stroke="#000" stroke-width="3.4"/>
<rect x="1558.20" y="545.50" width="3" height="1097.20" fill="#8c008c"/>
<rect x="1574.30" y="321.20" width="21.90" height="1321.80" fill="#008000" stroke="#000" stroke-width="3.4"/>
<rect x="1576.00" y="322.90" width="3" height="1319.80" fill="#004000"/>
<rect x="1620.50" y="914.40" width="21.70" height="728.60" fill="#000000" stroke="#000" stroke-width="3.4"/>
<rect x="1642.20" y="1069.50" width="17.60" height="573.50" fill="#ff0000" stroke="#000" stroke-width="3.4"/>
<rect x="1643.90" y="1071.20" width="3" height="571.50" fill="#8a0000"/>
<rect x="1659.80" y="1063.00" width="16.80" height="580.00" fill="#0000ff" stroke="#000" stroke-width="3.4"/>
<rect x="1661.50" y="1064.70" width="3" height="578.00" fill="#00008c"/>
<rect x="1676.60" y="1019.00" width="24.10" height="624.00" fill="#ff00ff" stroke="#000" stroke-width="3.4"/>
<rect x="1678.30" y="1020.70" width="3" height="622.00" fill="#8c008c"/>
<rect x="1700.70" y="1024.90" width="21.00" height="618.10" fill="#008000" stroke="#000" stroke-width="3.4"/>
<rect x="1702.40" y="1026.60" width="3" height="616.10" fill="#004000"/>
<rect x="1743.40" y="1110.00" width="21.70" height="533.00" fill="#000000" stroke="#000" stroke-width="3.4"/>
<rect x="1765.10" y="1120.20" width="17.40" height="522.80" fill="#ff0000" stroke="#000" stroke-width="3.4"/>
<rect x="1766.80" y="1121.90" width="3" height="520.80" fill="#8a0000"/>
<rect x="1782.50" y="1093.90" width="22.90" height="549.10" fill="#0000ff" stroke="#000" stroke-width="3.4"/>
<rect x="1784.20" y="1095.60" width="3" height="547.10" fill="#00008c"/>
<rect x="1805.40" y="1274.70" width="18.10" height="368.30" fill="#ff00ff" stroke="#000" stroke-width="3.4"/>
<rect x="1807.10" y="1276.40" width="3" height="366.30" fill="#8c008c"/>
<rect x="1823.50" y="1066.10" width="21.20" height="576.90" fill="#008000" stroke="#000" stroke-width="3.4"/>
<rect x="1825.20" y="1067.80" width="3" height="574.90" fill="#004000"/>
<rect x="1869.30" y="1156.80" width="20.20" height="486.20" fill="#000000" stroke="#000" stroke-width="3.4"/>
<rect x="1889.50" y="1141.50" width="15.40" height="501.50" fill="#ff0000" stroke="#000" stroke-width="3.4"/>
<rect x="1891.20" y="1143.20" width="3" height="499.50" fill="#8a0000"/>
<rect x="1904.90" y="1117.30" width="27.10" height="525.70" fill="#0000ff" stroke="#000" stroke-width="3.4"/>
<rect x="1906.60" y="1119.00" width="3" height="523.70" fill="#00008c"/>
<rect x="1932.00" y="1219.00" width="13.90" height="424.00" fill="#ff00ff" stroke="#000" stroke-width="3.4"/>
<rect x="1933.70" y="1220.70" width="3" height="422.00" fill="#8c008c"/>
<rect x="1945.90" y="1093.20" width="21.70" height="549.80" fill="#008000" stroke="#000" stroke-width="3.4"/>
<rect x="1947.60" y="1094.90" width="3" height="547.80" fill="#004000"/>
<rect x="1991.90" y="1232.20" width="21.80" height="410.80" fill="#000000" stroke="#000" stroke-width="3.4"/>
<rect x="2013.70" y="1250.50" width="17.50" height="392.50" fill="#ff0000" stroke="#000" stroke-width="3.4"/>
<rect x="2015.40" y="1252.20" width="3" height="390.50" fill="#8a0000"/>
<rect x="2031.20" y="1251.70" width="23.40" height="391.30" fill="#0000ff" stroke="#000" stroke-width="3.4"/>
<rect x="2032.90" y="1253.40" width="3" height="389.30" fill="#00008c"/>
<rect x="2054.60" y="1345.70" width="15.00" height="297.30" fill="#ff00ff" stroke="#000" stroke-width="3.4"/>
<rect x="2056.30" y="1347.40" width="3" height="295.30" fill="#8c008c"/>
<rect x="2069.60" y="1150.20" width="24.30" height="492.80" fill="#008000" stroke="#000" stroke-width="3.4"/>
<rect x="2071.30" y="1151.90" width="3" height="490.80" fill="#004000"/>
<rect x="2114.20" y="1215.40" width="22.40" height="427.60" fill="#000000" stroke="#000" stroke-width="3.4"/>
<rect x="2136.60" y="1236.60" width="17.60" height="406.40" fill="#ff0000" stroke="#000" stroke-width="3.4"/>
<rect x="2138.30" y="1238.30" width="3" height="404.40" fill="#8a0000"/>
<rect x="2154.20" y="1216.70" width="21.90" height="426.30" fill="#0000ff" stroke="#000" stroke-width="3.4"/>
<rect x="2155.90" y="1218.40" width="3" height="424.30" fill="#00008c"/>
<rect x="2176.10" y="1271.00" width="16.10" height="372.00" fill="#ff00ff" stroke="#000" stroke-width="3.4"/>
<rect x="2177.80" y="1272.70" width="3" height="370.00" fill="#8c008c"/>
<rect x="2192.20" y="1145.10" width="21.80" height="497.90" fill="#008000" stroke="#000" stroke-width="3.4"/>
<rect x="2193.90" y="1146.80" width="3" height="495.90" fill="#004000"/>
<rect x="2240.70" y="1120.20" width="19.40" height="522.80" fill="#000000" stroke="#000" stroke-width="3.4"/>
<rect x="2260.10" y="1109.90" width="17.30" height="533.10" fill="#ff0000" stroke="#000" stroke-width="3.4"/>
<rect x="2261.80" y="1111.60" width="3" height="531.10" fill="#8a0000"/>
<rect x="2277.40" y="1107.70" width="22.50" height="535.30" fill="#0000ff" stroke="#000" stroke-width="3.4"/>
<rect x="2279.10" y="1109.40" width="3" height="533.30" fill="#00008c"/>
<rect x="2299.90" y="1083.20" width="18.30" height="559.80" fill="#ff00ff" stroke="#000" stroke-width="3.4"/>
<rect x="2301.60" y="1084.90" width="3" height="557.80" fill="#8c008c"/>
<rect x="2318.20" y="1035.00" width="18.00" height="608.00" fill="#008000" stroke="#000" stroke-width="3.4"/>
<rect x="2319.90" y="1036.70" width="3" height="606.00" fill="#004000"/>
</g>
<path d="M338.0,907.0L406.6,882.1M442.2,899.9L548.6,1255.9M580.1,1266.2L657.9,1207.3M706.9,1176.8L779.8,1139.9M827.4,1146.0L907.2,1216.7M957.8,1238.3L1024.3,1243.8M1077.3,1229.9L1152.9,1178.6M1194.4,1185.5L1281.7,1301.8M1327.3,1318.4L1395.5,1302.6M1427.9,1267.4L1542.3,488.0M1552.9,487.6L1665.5,989.1M1693.0,1037.2L1774.7,1113.7M1824.7,1136.4L1889.6,1142.8M1941.4,1163.4L2018.5,1223.2M2069.9,1235.6L2136.0,1223.1M2185.0,1197.2L2269.7,1113.0" stroke="#282828" stroke-width="2.2" fill="none"/>
<rect x="293.9" y="900.3" width="33.7" height="33.3" fill="#000"/>
<rect x="417.2" y="855.3" width="33.4" height="33.7" fill="#000"/>
<rect x="540.2" y="1268.7" width="33.5" height="30.0" fill="#000"/>
<rect x="662.8" y="1173.1" width="36.5" height="33.5" fill="#000"/>
<rect x="788.8" y="1111.7" width="33.8" height="30.2" fill="#000"/>
<rect x="912.2" y="1221.0" width="33.4" height="29.8" fill="#000"/>
<rect x="1035.0" y="1231.2" width="36.5" height="30.0" fill="#000"/>
<rect x="1159.6" y="1145.9" width="34.7" height="32.8" fill="#000"/>
<rect x="1283.9" y="1310.2" width="30.4" height="29.6" fill="#000"/>
<rect x="1407.0" y="1279.1" width="33.4" height="33.9" fill="#000"/>
<rect x="1529.4" y="442.4" width="34.2" height="33.9" fill="#000"/>
<rect x="1653.9" y="1002.0" width="35.9" height="30.7" fill="#000"/>
<rect x="1779.0" y="1118.5" width="33.7" height="30.1" fill="#000"/>
<rect x="1901.3" y="1128.8" width="34.4" height="33.7" fill="#000"/>
<rect x="2024.6" y="1224.4" width="33.7" height="33.2" fill="#000"/>
<rect x="2147.6" y="1202.0" width="33.7" height="31.4" fill="#000"/>
<rect x="2273.2" y="1077.3" width="34.2" height="30.4" fill="#000"/>
<g stroke="#000" stroke-width="6" fill="none">
<path d="M249.5,214V1661"/>
<path d="M249,1643.7H2351"/>
<path d="M212,1640.7H249"/>
<path d="M212,1447.3H249"/>
<path d="M212,1254.0H249"/>
<path d="M212,1060.7H249"/>
<path d="M212,867.3H249"/>
<path d="M212,674.0H249"/>
<path d="M212,480.6H249"/>
<path d="M212,287.2H249"/>
<path d="M231,1544.0H249"/>
<path d="M231,1350.7H249"/>
<path d="M231,1157.3H249"/>
<path d="M231,964.0H249"/>
<path d="M231,770.6H249"/>
<path d="M231,577.3H249"/>
<path d="M231,383.9H249"/>
<path d="M311.6,1644V1677.5"/>
<path d="M435.2,1644V1677.5"/>
<path d="M558.9,1644V1677.5"/>
<path d="M682.5,1644V1677.5"/>
<path d="M806.1,1644V1677.5"/>
<path d="M929.8,1644V1677.5"/>
<path d="M1053.4,1644V1677.5"/>
<path d="M1177.0,1644V1677.5"/>
<path d="M1300.6,1644V1677.5"/>
<path d="M1424.3,1644V1677.5"/>
<path d="M1547.9,1644V1677.5"/>
<path d="M1671.5,1644V1677.5"/>
<path d="M1795.2,1644V1677.5"/>
<path d="M1918.8,1644V1677.5"/>
<path d="M2042.4,1644V1677.5"/>
<path d="M2166.0,1644V1677.5"/>
<path d="M2289.7,1644V1677.5"/>
<path d="M373.4,1644V1661"/>
<path d="M497.0,1644V1661"/>
<path d="M620.7,1644V1661"/>
<path d="M744.3,1644V1661"/>
<path d="M867.9,1644V1661"/>
<path d="M991.6,1644V1661"/>
<path d="M1115.2,1644V1661"/>
<path d="M1238.8,1644V1661"/>
<path d="M1362.5,1644V1661"/>
<path d="M1486.1,1644V1661"/>
<path d="M1609.7,1644V1661"/>
<path d="M1733.3,1644V1661"/>
<path d="M1857.0,1644V1661"/>
<path d="M1980.6,1644V1661"/>
<path d="M2104.2,1644V1661"/>
<path d="M2227.9,1644V1661"/>
<path d="M2351.5,1644V1661"/>
</g>
<g font-family="Liberation Sans, Arial, Helvetica, sans-serif" font-size="63" fill="#000" text-anchor="end">
<text x="190.5" y="1655.4">0</text>
<text x="190.5" y="1462.0">5</text>
<text x="190.5" y="1268.7">10</text>
<text x="190.5" y="1075.4">15</text>
<text x="190.5" y="882.0">20</text>
<text x="190.5" y="688.7">25</text>
<text x="190.5" y="495.3">30</text>
<text x="190.5" y="301.9">35</text>
</g>
<g font-family="Liberation Sans, Arial, Helvetica, sans-serif" font-size="64.3" letter-spacing="0.7" fill="#000" text-anchor="middle">
<text x="309.4" y="1742.7">JNA</text>
<text x="433.0" y="1742.7">ZB</text>
<text x="556.7" y="1742.7">DY</text>
<text x="680.3" y="1742.7">JNI</text>
<text x="803.9" y="1742.7">TA</text>
<text x="927.5" y="1742.7">LW</text>
<text x="1051.2" y="1742.7">DZ</text>
<text x="1174.8" y="1742.7">LC</text>
<text x="1298.4" y="1742.7">BZ</text>
<text x="1422.1" y="1742.7">HZ</text>
<text x="1545.7" y="1742.7">ZZ</text>
<text x="1669.3" y="1742.7">KF</text>
<text x="1793.0" y="1742.7">AY</text>
<text x="1916.6" y="1742.7">HB</text>
<text x="2040.2" y="1742.7">XX</text>
<text x="2163.8" y="1742.7">JZ</text>
<text x="2287.5" y="1742.7">PY</text>
</g>
<text transform="translate(1299,1851.8) scale(1.086,1)" x="0" y="0" font-family="Liberation Sans, Arial, Helvetica, sans-serif" font-size="60.5" text-anchor="middle">Administration district</text>
<text transform="translate(71,970.4) rotate(-90) scale(1.02,1)" x="0" y="0" font-family="Liberation Sans, Arial, Helvetica, sans-serif" font-size="61" text-anchor="middle">Water resource load index</text>
<g stroke="#000" stroke-width="3.4">
<rect x="1411.4" y="51.4" width="91.5" height="40.8" fill="#000"/>
<rect x="1613.3" y="51.4" width="91.5" height="40.8" fill="#ff0000"/>
<rect x="1818.6" y="51.9" width="91.0" height="41.3" fill="#0000ff"/>
<rect x="1411.4" y="103.1" width="91.5" height="39.8" fill="#ff00ff"/>
<rect x="1613.3" y="103.1" width="91.5" height="39.8" fill="#008000"/>
</g>
<g font-family="Liberation Sans, Arial, Helvetica, sans-serif" font-size="44.5" fill="#000">
<text transform="translate(1517,86.8) scale(0.94,1)" x="0" y="0">2013</text>
<text transform="translate(1722,86.8) scale(0.94,1)" x="0" y="0">2014</text>
<text transform="translate(1924,86.3) scale(0.94,1)" x="0" y="0">2015</text>
<text transform="translate(1517,135.3) scale(0.94,1)" x="0" y="0">2016</text>
<text transform="translate(1722,135.3) scale(0.94,1)" x="0" y="0">2017</text>
</g>
<text x="1513" y="185.8" font-family="Liberation Sans, Arial, Helvetica, sans-serif" font-size="43" letter-spacing="0.2" fill="#000">The average of water resource load index</text>
<path d="M1406.5,173.7H1430M1481.7,173.7H1505.5" stroke="#000" stroke-width="3.8"/>
<rect x="1438" y="155.5" width="36.5" height="33" fill="#000"/>
</svg>
</body></html>
